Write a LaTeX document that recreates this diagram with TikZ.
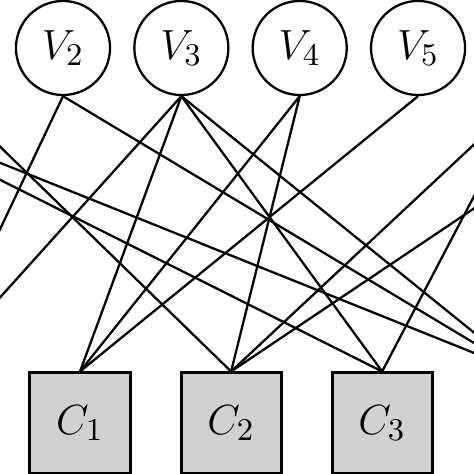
\documentclass[tikz,border=0pt]{standalone}
\usepackage{amsmath}
\usepackage{tikz}
\usetikzlibrary{positioning}
\tikzstyle{var} = [circle, draw, line width=0.65pt, minimum size=0.94cm, inner sep=0pt, font=\fontsize{12.5}{15}\selectfont]
\tikzstyle{check} = [rectangle, draw, line width=0.85pt, fill=black!18, minimum size=1cm, inner sep=0pt, font=\fontsize{12.5}{15}\selectfont]
\tikzstyle{edge} = [line width=0.65pt]

\begin{document}
\begin{tikzpicture}[x=0.01cm, y=-0.01cm]
    \useasboundingbox (0,0) rectangle (474,474);
    \clip (0,0) rectangle (474,474);
    % variable nodes
    \node[var] (v2) at (63,48) {$V_2$};
    \node[var, right=0.22cm of v2] (v3) {$V_3$};
    \node[var, right=0.22cm of v3] (v4) {$V_4$};
    \node[var, right=0.22cm of v4] (v5) {$V_5$};
    % check nodes
    \node[check] (c1) at (80,423) {$C_1$};
    \node[check, right=0.48cm of c1] (c2) {$C_2$};
    \node[check, right=0.48cm of c2] (c3) {$C_3$};
    % ends of edges that leave the frame
    \coordinate (v0) at (-169,95); \coordinate (v1) at (-53,95);
    \coordinate (v6) at (527,95); \coordinate (v7) at (643,95);
    \coordinate (c0) at (-68,373); \coordinate (c4) at (524,373);
    \foreach \a/\b in {v0/c3.north, v0/c4, v1/c2.north, v2.south/c0, v2.south/c4,
        v3.south/c0, v3.south/c1.north, v3.south/c3.north, v3.south/c4,
        v4.south/c1.north, v4.south/c2.north, v5.south/c1.north,
        v6/c2.north, v6/c3.north, v7/c2.north}
        \draw[edge] (\a) -- (\b);
\end{tikzpicture}
\end{document}
